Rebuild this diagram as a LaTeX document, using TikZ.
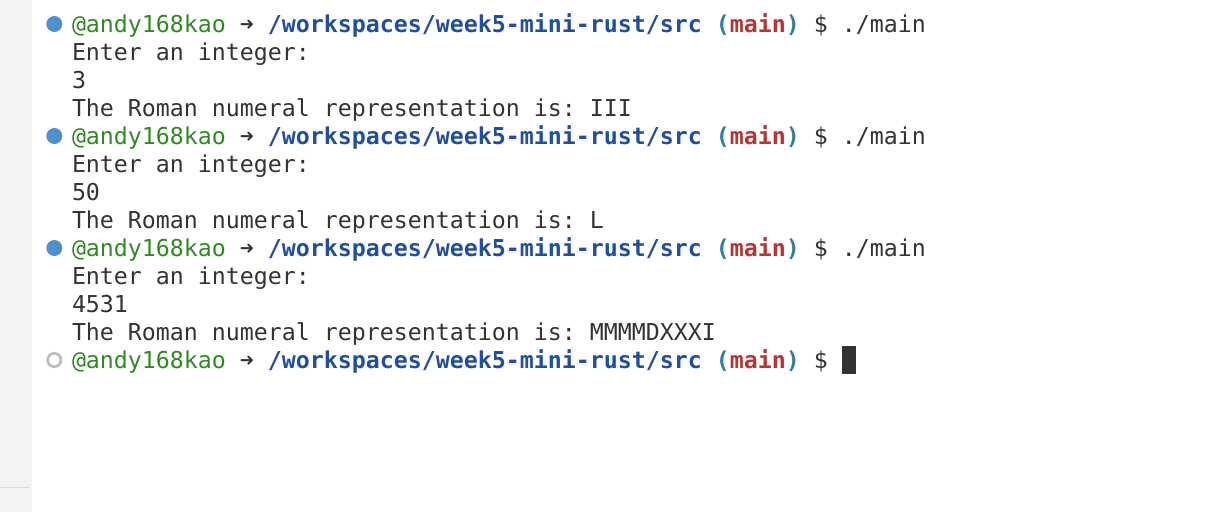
\documentclass[tikz,border=0pt]{standalone}
\usepackage{fontspec}
\setmainfont{DejaVu Sans Mono}
\usetikzlibrary{positioning}

\definecolor{sidegray}{HTML}{F3F3F3}
\definecolor{sideline}{HTML}{DCDCDC}
\definecolor{termtext}{HTML}{333333}
\definecolor{usergreen}{HTML}{2F8A22}
\definecolor{pathblue}{HTML}{1F4FA0}
\definecolor{parenteal}{HTML}{2E7F9F}
\definecolor{branchred}{HTML}{B93434}
\definecolor{dotblue}{HTML}{4A90D4}
\definecolor{dotgray}{HTML}{BDBDBD}

\newcommand{\promptline}{{\color{usergreen}@andy168kao} \textbf{➜} \textcolor{pathblue}{\textbf{/workspaces/week5-mini-rust/src}} \textcolor{parenteal}{\textbf{(}\textcolor{branchred}{\textbf{main}}\textbf{)}} \$}

\begin{document}
\begin{tikzpicture}[
x=1pt, y=1pt,
termline/.style={rectangle, inner sep=0pt, outer sep=0pt, text height=22pt, text depth=6pt, text=termtext, font=\fontsize{23.25pt}{28pt}\selectfont\frenchspacing},
nextline/.style={termline, below=0pt of #1.south west, anchor=north west},
bluedot/.style={circle, fill=dotblue, inner sep=0pt, outer sep=0pt, minimum size=16pt},
graydot/.style={circle, draw=dotgray, line width=2.6pt, fill=white, inner sep=0pt, outer sep=1.3pt, minimum size=13.4pt},
cursorbox/.style={rectangle, fill=termtext, inner sep=0pt, outer sep=0pt, minimum width=14pt, minimum height=28pt},
]
\useasboundingbox (0,0) rectangle (1230,-512);

%Sidebar
\fill[sidegray] (0,0) rectangle (32,-512);
\coordinate (ruleleft) at (0,-487);
\coordinate (ruleright) at (30,-487);
\draw[sideline, line width=1pt] (ruleleft) -- (ruleright);

%First run
\node[termline, anchor=north west] (prompta) at (72,-10) {\promptline{} ./main};
\node[nextline=prompta] (aska) {Enter an integer:};
\node[nextline=aska] (inputa) {3};
\node[nextline=inputa] (answera) {The Roman numeral representation is: III};

%Second run
\node[nextline=answera] (promptb) {\promptline{} ./main};
\node[nextline=promptb] (askb) {Enter an integer:};
\node[nextline=askb] (inputb) {50};
\node[nextline=inputb] (answerb) {The Roman numeral representation is: L};

%Third run
\node[nextline=answerb] (promptc) {\promptline{} ./main};
\node[nextline=promptc] (askc) {Enter an integer:};
\node[nextline=askc] (inputc) {4531};
\node[nextline=inputc] (answerc) {The Roman numeral representation is: MMMMDXXXI};

%Last prompt
\node[nextline=answerc] (promptd) {\promptline};
\node[cursorbox, right=14pt of promptd.east] (cursor) {};

%Dots
\node[bluedot, left=9.7pt of prompta.west] (dota) {};
\node[bluedot, left=9.7pt of promptb.west] (dotb) {};
\node[bluedot, left=9.7pt of promptc.west] (dotc) {};
\node[graydot, left=9.7pt of promptd.west] (dotd) {};
\end{tikzpicture}
\end{document}
